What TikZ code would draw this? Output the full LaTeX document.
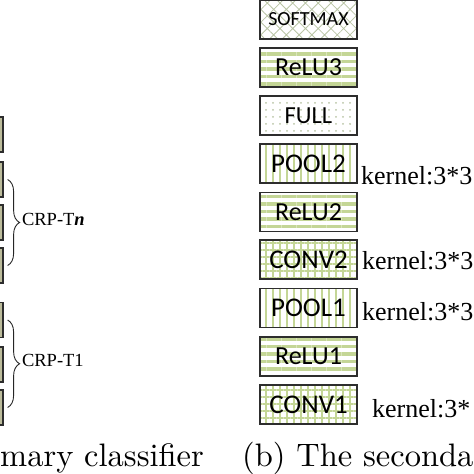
\documentclass[tikz,border=0pt]{standalone}
\usepackage{fontspec}
\usepackage{xcolor}
\usetikzlibrary{patterns.meta,decorations.pathreplacing}
\newfontfamily\boxfont{Carlito}
\newfontfamily\timesfont{Liberation Serif}
\newfontfamily\capfont{lmroman10-regular.otf}

\begin{document}
\begin{tikzpicture}[x=1pt,y=-1pt,
  layer/.style={draw=boxline,line width=1.4pt,minimum width=97pt,minimum height=39pt,inner sep=0pt,text height=16.5pt,text depth=0pt,font=\boxfont\fontsize{26}{26}\selectfont},
  relubox/.style={layer,pattern={Lines[angle=0,distance=7.5pt,line width=3.6pt]},pattern color=stripe},
  poolbox/.style={layer,text height=17.2pt,font=\boxfont\fontsize{27}{27}\selectfont,pattern={Lines[angle=90,distance=7pt,line width=1.6pt]},pattern color=stripe},
  convbox/.style={layer,text height=17.2pt,font=\boxfont\fontsize{27}{27}\selectfont,pattern={Hatch[angle=0,distance=7pt,line width=1.4pt]},pattern color=stripe},
  fullbox/.style={layer,text height=15.6pt,font=\boxfont\fontsize{24.5}{25}\selectfont,pattern={Dots[distance=7pt,radius=1pt]},pattern color=dotgray},
  softbox/.style={layer,text height=12.8pt,font=\boxfont\fontsize{20}{20}\selectfont,pattern={Hatch[angle=45,distance=9pt,line width=0.8pt]},pattern color=dotgray},
  oldbox/.style={draw=boxline,fill=khaki,line width=1.2pt,minimum width=97pt,minimum height=35pt,inner sep=0pt},
  crpbrace/.style={decorate,decoration={brace,amplitude=12pt},line width=0.9pt,draw=black!85},
  crplabel/.style={midway,anchor=west,xshift=14pt,yshift=3pt,inner sep=0pt,font=\timesfont\fontsize{18.5}{20}\selectfont},
  kernel/.style={anchor=base west,inner sep=0pt,font=\timesfont\fontsize{26}{28}\selectfont},
  caption/.style={inner sep=0pt,font=\capfont\fontsize{32.5}{39}\selectfont}]
% Define colors
\definecolor{boxline}{RGB}{45,45,45}
\definecolor{stripe}{RGB}{196,214,150}
\definecolor{dotgray}{RGB}{185,196,165}
\definecolor{khaki}{RGB}{188,188,156}

\useasboundingbox (0,0) rectangle (474,474);
\clip (0,0) rectangle (474,474);

% Left column (cut off)
\node[oldbox] (upper) at (-45.5,134.5) {};
\node[oldbox] (tnpool) at (-45.5,179.5) {};
\node[oldbox] (tnrelu) at (-45.5,222.5) {};
\node[oldbox] (tnconv) at (-45.5,265.5) {};
\node[oldbox] (t1pool) at (-45.5,320) {};
\node[oldbox] (t1relu) at (-45.5,364.5) {};
\node[oldbox] (t1conv) at (-45.5,407.5) {};

% Braces
\draw[crpbrace] ([xshift=4pt]tnpool.east) -- ([xshift=4pt]tnconv.east) node[crplabel] (crptn) {CRP-T\textbf{\textit{n}}};
\draw[crpbrace] ([xshift=4pt]t1pool.east) -- ([xshift=4pt]t1conv.east) node[crplabel] (crpt1) {CRP-T1};

% Right column
\node[softbox] (softmax) at (308.5,19.5) {SOFTMAX};
\node[relubox] (relu3) at (308.5,67.5) {ReLU3};
\node[fullbox] (full) at (308.5,115.5) {FULL};
\node[poolbox] (pool2) at (308.5,163.5) {POOL2};
\node[relubox] (relu2) at (308.5,212) {ReLU2};
\node[convbox] (conv2) at (308.5,259.5) {CONV2};
\node[poolbox] (pool1) at (308.5,308) {POOL1};
\node[relubox] (relu1) at (308.5,356.5) {ReLU1};
\node[convbox] (conv1) at (308.5,404.5) {CONV1};

% Kernel sizes
\node[kernel] (kpool2) at (361,184) {kernel:3*3};
\node[kernel] (kconv2) at (362,269) {kernel:3*3};
\node[kernel] (kpool1) at (362,320) {kernel:3*3};
\node[kernel] (kconv1) at (372,417) {kernel:3*};

% Captions
\node[caption,anchor=base west] (capa) at (0,466) {mary classifier};
\node[caption,anchor=base west] (capb) at (242,466) {(b) The seconda};
\end{tikzpicture}
\end{document}
